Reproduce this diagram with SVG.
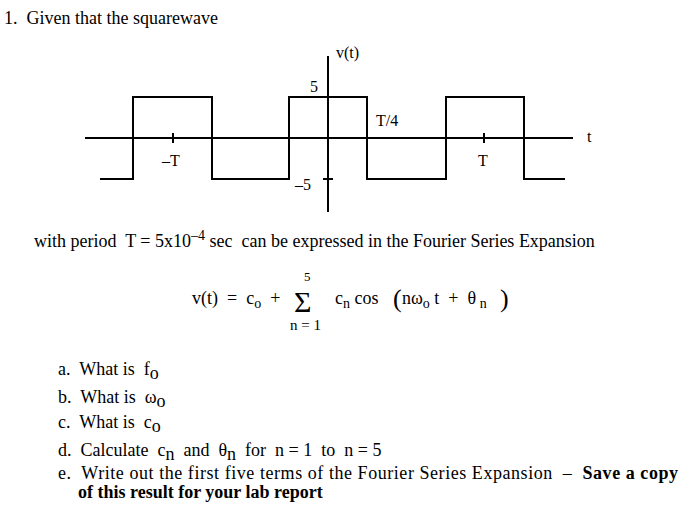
<svg xmlns="http://www.w3.org/2000/svg" width="700" height="508" viewBox="0 0 700 508">
<style>
text{font-family:"Liberation Serif",serif;font-size:18px;fill:#000;white-space:pre}
text.s{font-size:16px}
.l{fill:none;stroke:#000;stroke-width:2}
</style>
<rect width="700" height="508" fill="#fff"/>
<text x="4" y="24">1.  Given that the squarewave</text>
<g id="plot">
<line class="l" x1="85" y1="138" x2="573" y2="138"/>
<line class="l" x1="328" y1="56" x2="328" y2="212"/>
<polyline class="l" points="100,179 133,179 133,97 212,97 212,179 289,179 289,97 367,97 367,179 446,179 446,97 524,97 524,179 565,179"/>
<line class="l" x1="173" y1="133" x2="173" y2="143"/>
<line class="l" x1="484" y1="133" x2="484" y2="143"/>
<line class="l" x1="323" y1="179" x2="333" y2="179"/>
<text class="s" x="336" y="58">v(t)</text>
<text class="s" x="310" y="92">5</text>
<text class="s" x="376" y="126">T/4</text>
<text class="s" x="162" y="166">–T</text>
<text class="s" x="478" y="166">T</text>
<text class="s" x="295" y="190">–5</text>
<text class="s" x="587" y="142">t</text>
</g>
<text x="34" y="247">with period  T = 5x10<tspan dy="-7" style="font-size:14px">–4</tspan><tspan dy="7"> sec  can be expressed in the Fourier Series Expansion</tspan></text>
<g id="eq">
<text x="192" y="304">v(t)  =  c<tspan dy="4" style="font-size:14px">o</tspan><tspan dy="-4">  +</tspan></text>
<text x="294" y="312" style="font-size:30px">Σ</text>
<text x="304" y="281" style="font-size:13px">5</text>
<text x="290" y="330" style="font-size:15px">n = 1</text>
<text x="335" y="304">c<tspan dy="4" style="font-size:14px">n</tspan><tspan dy="-4"> cos</tspan></text>
<text x="393" y="307" style="font-size:26px">(</text>
<text x="402" y="304">nω<tspan dy="4" style="font-size:14px">o</tspan><tspan dy="-4"> t  +  θ</tspan><tspan dy="4" style="font-size:14px"> n</tspan></text>
<text x="500" y="307" style="font-size:26px">)</text>
</g>
<text x="58" y="375">a.  What is  f<tspan dy="4">o</tspan></text>
<text x="58" y="403">b.  What is  ω<tspan dy="4">o</tspan></text>
<text x="58" y="428">c.  What is  c<tspan dy="4">o</tspan></text>
<text x="58" y="456">d.  Calculate  c<tspan dy="4">n</tspan><tspan dy="-4">  and  θ</tspan><tspan dy="4">n</tspan><tspan dy="-4">  for  n = 1  to  n = 5</tspan></text>
<text x="58" y="479" textLength="620">e.  Write out the first five terms of the Fourier Series Expansion  –  <tspan font-weight="bold">Save a copy</tspan></text>
<text x="78" y="498" font-weight="bold">of this result for your lab report</text>
</svg>
